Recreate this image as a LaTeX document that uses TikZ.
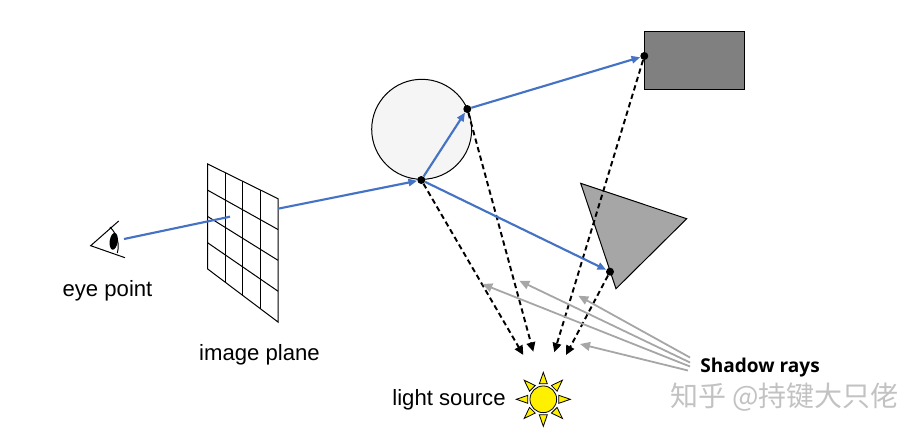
\documentclass[tikz,border=0pt]{standalone}
\usepackage{fontspec}
\setmainfont{Liberation Sans}
\newfontfamily\boldlabel{Open Sans}
\newfontfamily\cjk{Noto Sans CJK SC}
\usetikzlibrary{arrows.meta}
\definecolor{rayblue}{HTML}{4472C4}
\definecolor{shadowgray}{HTML}{A6A6A6}
\definecolor{sunyellow}{HTML}{FFF000}
\definecolor{spherefill}{HTML}{F5F5F5}
\tikzset{
  ray/.style={draw=rayblue,line width=1.6pt},
  rayarrow/.style={ray,-{Triangle[length=6.5pt,width=5.5pt]}},
  shadowray/.style={draw=black,line width=1.45pt,dash pattern=on 4pt off 2.6pt,-{Triangle[length=7pt,width=6.5pt]}},
  pointer/.style={draw=shadowgray,line width=1.35pt,-{Triangle[length=7.5pt,width=6.5pt]}},
  hit/.style={circle,fill=black,inner sep=0pt,minimum size=6pt},
  label/.style={font=\fontsize{16.6pt}{18pt}\selectfont,text=black,inner sep=0pt},
  thinline/.style={draw=black,line width=0.75pt},
  ray sun/.style={draw=black,line width=0.6pt,fill=sunyellow},
}
\begin{document}
\begin{tikzpicture}[x=0.75pt,y=-0.75pt]
\useasboundingbox (0,0) rectangle (921,433);
% image plane
\draw[thinline,line join=miter] (207.7,164) -- (278,198.7) -- (278,322) -- (207.7,269) -- cycle;
\draw[thinline] (225.3,172.7) -- (225.3,282.2);
\draw[thinline] (242.8,181.4) -- (242.8,295.5);
\draw[thinline] (260.4,190) -- (260.4,308.8);
\draw[thinline] (207.7,190.2) -- (278,229.5);
\draw[thinline] (207.7,216.5) -- (278,260.3);
\draw[thinline] (207.7,242.8) -- (278,291.2);
% eye
\draw[thinline] (118.7,221) -- (90.7,245.7) -- (125,257.7);
\draw[thinline] (110,227) .. controls (118,235) and (119.5,245) .. (117.3,253);
\fill[black,rotate around={-8:(113.7,241.3)}] (113.7,241.3) ellipse (4 and 8.5);
% objects
\node[circle,draw=black,line width=0.75pt,fill=spherefill,inner sep=0pt,minimum size=75pt] (sphere) at (421.7,129.3) {};
\node[draw=black,line width=0.75pt,fill=black!50,inner sep=0pt,minimum width=75pt,minimum height=43.5pt] (box) at (694.8,60.3) {};
\draw[thinline,fill=shadowgray,line join=miter] (580.7,183.3) -- (686.7,218.7) -- (616,288.7) -- cycle;
% sun
\foreach \a in {0,45,...,315}{
  \draw[ray sun,rotate around={\a:(543.3,399.3)}] (558.8,395.3) -- (570.3,399.3) -- (558.8,403.3) -- cycle;
}
\node[circle,draw=black,line width=0.6pt,fill=sunyellow,inner sep=0pt,minimum size=20pt] (sun) at (543.3,399.3) {};
% ray endpoints
\coordinate (eye) at (124,239);
\coordinate (planeIn) at (230,216.7);
\coordinate (planeOut) at (278,208.7);
\coordinate (sa) at (523.3,355);
\coordinate (sb) at (533.3,351.7);
\coordinate (sc) at (554.3,352.3);
\coordinate (sd) at (566,355);
\coordinate (g1) at (690,366.5);
\coordinate (g2) at (690,362.5);
\coordinate (g3) at (690,357.5);
\coordinate (g4) at (688,370.5);
\coordinate (t1) at (482.3,284);
\coordinate (t2) at (519.3,280.7);
\coordinate (t3) at (578.3,295.7);
\coordinate (t4) at (580,344);
\node[hit] (A) at (421.3,180) {};
\node[hit] (B) at (467.3,109) {};
\node[hit] (C) at (644.3,56) {};
\node[hit] (D) at (610,271.7) {};
% shadow rays
\draw[shadowray] (A) -- (sa);
\draw[shadowray] (B) -- (sb);
\draw[shadowray] (C) -- (sc);
\draw[shadowray] (D) -- (sd);
% blue rays
\draw[ray] (eye) -- (planeIn);
\draw[rayarrow] (planeOut) -- (A);
\draw[rayarrow] (A) -- (B);
\draw[rayarrow] (B) -- (C);
\draw[rayarrow] (A) -- (D);
% pointers
\draw[pointer] (g1) -- (t1);
\draw[pointer] (g2) -- (t2);
\draw[pointer] (g3) -- (t3);
\draw[pointer] (g4) -- (t4);
% labels
\node[label] (eyelabel) at (107.5,290.5) {eye point};
\node[label] (planelabel) at (259.5,355) {image plane};
\node[label] (lightlabel) at (449,399.5) {light source};
\node[inner sep=0pt,font=\boldlabel\bfseries\fontsize{14.3pt}{16pt}\selectfont] (shadowlabel) at (760,368) {Shadow rays};
\node[inner sep=0pt,text=black!24,font=\cjk\fontsize{21pt}{24pt}\selectfont] (mark) at (784.5,397) {知乎 @持键大只佬};
\end{tikzpicture}
\end{document}
